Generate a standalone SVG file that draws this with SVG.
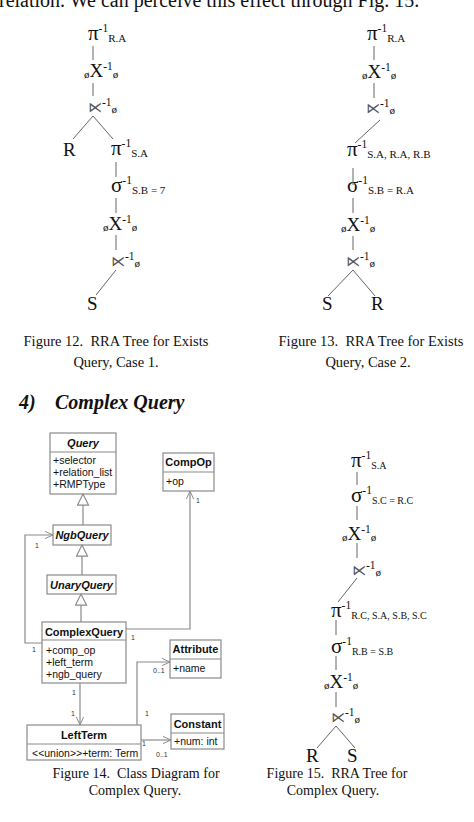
<svg xmlns="http://www.w3.org/2000/svg" width="474" height="822" viewBox="0 0 474 822">
<style>
.bg{fill:#fff}
.tr{font-family:"Liberation Serif","Times New Roman",serif;font-size:19px;fill:#111}
.g{font-size:21px}
.sp{font-size:11.5px}
.sb{font-size:11px}
.o{font-size:11px}
.sb2{font-size:10px}
.jn{font-family:"DejaVu Sans",sans-serif;font-size:14px;fill:#555}
.ln{stroke:#666;stroke-width:1;fill:none}
.box{fill:#fff;stroke:#8a8a8a;stroke-width:1.2}
.sep{stroke:#8a8a8a;stroke-width:1.2}
.cn{font-family:"Liberation Sans",Arial,sans-serif;font-size:10.5px;fill:#111}
.ct{font-family:"Liberation Sans",Arial,sans-serif;font-weight:bold;font-size:11px;text-anchor:middle;fill:#111}
.it{font-style:italic}
.ml{font-family:"Liberation Sans",Arial,sans-serif;font-size:7px;fill:#333}
.as{stroke:#8a8a8a;stroke-width:1.2;fill:none}
.cap{font-family:"Liberation Serif","Times New Roman",serif;font-size:14.5px;fill:#111;text-anchor:middle}
.cap2{font-family:"Liberation Serif","Times New Roman",serif;font-size:14px;fill:#111;text-anchor:middle}
.hd{font-family:"Liberation Serif","Times New Roman",serif;font-size:20px;font-weight:bold;font-style:italic;fill:#111}
.body{font-family:"Liberation Serif","Times New Roman",serif;font-size:20px;fill:#111}
</style>
<defs>
<marker id="oa" viewBox="0 0 10 10" refX="10" refY="5" markerWidth="8" markerHeight="8" orient="auto" markerUnits="userSpaceOnUse">
<path d="M0,0.5 L10,5 L0,9.5" fill="none" stroke="#8a8a8a" stroke-width="1.2"/>
</marker>
<marker id="tri" viewBox="0 0 14 14" refX="13" refY="7" markerWidth="13" markerHeight="13" orient="auto" markerUnits="userSpaceOnUse">
<path d="M1,1 L13,7 L1,13 Z" fill="#fff" stroke="#8a8a8a" stroke-width="1.2"/>
</marker>
</defs>
<rect class="bg" x="0" y="0" width="474" height="822"/>

<text class="body" x="-1" y="7">relation. We can perceive this effect through Fig. 15.</text>

<!-- Figure 12 tree -->
<g id="fig12">
<g id="f12-pi1"><text class="tr" x="88" y="40"><tspan class="g">π</tspan><tspan class="sp" dy="-8">-1</tspan><tspan class="sb" dy="10">R.A</tspan></text></g>
<g id="f12-x"><text class="tr" x="84" y="77"><tspan class="o" dy="1">ø</tspan><tspan dy="-1">X</tspan><tspan class="sp" dy="-7">-1</tspan><tspan class="o" dy="8">ø</tspan></text></g>
<g id="f12-join"><text class="tr" x="88" y="112"><tspan class="jn">⋉</tspan><tspan class="sp" dy="-6">-1</tspan><tspan class="o" dy="7">ø</tspan></text></g>
<g id="f12-R"><text class="tr" x="63" y="156">R</text></g>
<g id="f12-pi2"><text class="tr" x="111" y="155"><tspan class="g">π</tspan><tspan class="sp" dy="-8">-1</tspan><tspan class="sb" dy="10">S.A</tspan></text></g>
<g id="f12-sigma"><text class="tr" x="111" y="192"><tspan class="g">σ</tspan><tspan class="sp" dy="-8">-1</tspan><tspan class="sb" dy="10">S.B = 7</tspan></text></g>
<g id="f12-x2"><text class="tr" x="103" y="230"><tspan class="o" dy="1">ø</tspan><tspan dy="-1">X</tspan><tspan class="sp" dy="-7">-1</tspan><tspan class="o" dy="8">ø</tspan></text></g>
<g id="f12-join2"><text class="tr" x="111" y="266"><tspan class="jn">⋉</tspan><tspan class="sp" dy="-6">-1</tspan><tspan class="o" dy="7">ø</tspan></text></g>
<g id="f12-S"><text class="tr" x="87" y="310">S</text></g>
</g>

<!-- Figure 13 tree -->
<g id="fig13">
<g id="f13-pi1"><text class="tr" x="367" y="40"><tspan class="g">π</tspan><tspan class="sp" dy="-8">-1</tspan><tspan class="sb" dy="10">R.A</tspan></text></g>
<g id="f13-x"><text class="tr" x="362" y="78"><tspan class="o" dy="1">ø</tspan><tspan dy="-1">X</tspan><tspan class="sp" dy="-7">-1</tspan><tspan class="o" dy="8">ø</tspan></text></g>
<g id="f13-join"><text class="tr" x="366" y="113"><tspan class="jn">⋉</tspan><tspan class="sp" dy="-6">-1</tspan><tspan class="o" dy="7">ø</tspan></text></g>
<g id="f13-pi2"><text class="tr" x="347" y="156"><tspan class="g">π</tspan><tspan class="sp" dy="-8">-1</tspan><tspan class="sb" dy="10">S.A, R.A, R.B</tspan></text></g>
<g id="f13-sigma"><text class="tr" x="347" y="192"><tspan class="g">σ</tspan><tspan class="sp" dy="-8">-1</tspan><tspan class="sb" dy="10">S.B = R.A</tspan></text></g>
<g id="f13-x2"><text class="tr" x="341" y="231"><tspan class="o" dy="1">ø</tspan><tspan dy="-1">X</tspan><tspan class="sp" dy="-7">-1</tspan><tspan class="o" dy="8">ø</tspan></text></g>
<g id="f13-join2"><text class="tr" x="346" y="266"><tspan class="jn">⋉</tspan><tspan class="sp" dy="-6">-1</tspan><tspan class="o" dy="7">ø</tspan></text></g>
<g id="f13-S"><text class="tr" x="322" y="310">S</text></g>
<g id="f13-R"><text class="tr" x="371" y="310">R</text></g>
</g>

<!-- Figure 15 tree -->
<g id="fig15">
<g id="f15-pi1"><text class="tr" x="351" y="467"><tspan class="g">π</tspan><tspan class="sp" dy="-8">-1</tspan><tspan class="sb2" dy="10">S.A</tspan></text></g>
<g id="f15-sigma1"><text class="tr" x="351" y="502"><tspan class="g">σ</tspan><tspan class="sp" dy="-8">-1</tspan><tspan class="sb2" dy="10">S.C = R.C</tspan></text></g>
<g id="f15-x1"><text class="tr" x="342" y="540"><tspan class="o" dy="1">ø</tspan><tspan dy="-1">X</tspan><tspan class="sp" dy="-7">-1</tspan><tspan class="o" dy="8">ø</tspan></text></g>
<g id="f15-join1"><text class="tr" x="352" y="575"><tspan class="jn">⋉</tspan><tspan class="sp" dy="-6">-1</tspan><tspan class="o" dy="7">ø</tspan></text></g>
<g id="f15-pi2"><text class="tr" x="331" y="617"><tspan class="g">π</tspan><tspan class="sp" dy="-8">-1</tspan><tspan class="sb2" dy="10">R.C, S.A, S.B, S.C</tspan></text></g>
<g id="f15-sigma2"><text class="tr" x="331" y="653"><tspan class="g">σ</tspan><tspan class="sp" dy="-8">-1</tspan><tspan class="sb2" dy="10">R.B = S.B</tspan></text></g>
<g id="f15-x2"><text class="tr" x="324" y="688"><tspan class="o" dy="1">ø</tspan><tspan dy="-1">X</tspan><tspan class="sp" dy="-7">-1</tspan><tspan class="o" dy="8">ø</tspan></text></g>
<g id="f15-join2"><text class="tr" x="331" y="722"><tspan class="jn">⋉</tspan><tspan class="sp" dy="-6">-1</tspan><tspan class="o" dy="7">ø</tspan></text></g>
<g id="f15-R"><text class="tr" x="306" y="762">R</text></g>
<g id="f15-S"><text class="tr" x="347" y="762">S</text></g>
</g>

<!-- tree connectors -->
<g id="tree-edges" class="ln">
<line x1="93" y1="46" x2="93" y2="60"/>
<line x1="93" y1="83" x2="93" y2="96"/>
<line x1="93" y1="116" x2="73" y2="139"/>
<line x1="93" y1="116" x2="113" y2="139"/>
<line x1="116" y1="162" x2="116" y2="177"/>
<line x1="116" y1="198" x2="116" y2="213"/>
<line x1="116" y1="235" x2="116" y2="250"/>
<line x1="116" y1="270" x2="96" y2="295"/>

<line x1="374" y1="46" x2="374" y2="60"/>
<line x1="374" y1="83" x2="374" y2="98"/>
<line x1="380" y1="120" x2="355" y2="143"/>
<line x1="353" y1="168" x2="353" y2="185"/>
<line x1="353" y1="198" x2="353" y2="213"/>
<line x1="353" y1="236" x2="353" y2="250"/>
<line x1="353" y1="270" x2="328" y2="296"/>
<line x1="353" y1="270" x2="375" y2="296"/>

<line x1="357" y1="472" x2="357" y2="485"/>
<line x1="357" y1="506" x2="357" y2="520"/>
<line x1="357" y1="543" x2="357" y2="558"/>
<line x1="357" y1="578" x2="338" y2="602"/>
<line x1="336" y1="620" x2="336" y2="635"/>
<line x1="336" y1="656" x2="336" y2="670"/>
<line x1="336" y1="692" x2="336" y2="707"/>
<line x1="336" y1="726" x2="317" y2="748"/>
<line x1="336" y1="726" x2="355" y2="748"/>
</g>

<!-- captions -->
<text class="cap" x="116" y="346" xml:space="preserve">Figure 12.  RRA Tree for Exists</text>
<text class="cap" x="116" y="367">Query, Case 1.</text>
<text class="cap" x="371" y="346" xml:space="preserve">Figure 13.  RRA Tree for Exists</text>
<text class="cap" x="368" y="367">Query, Case 2.</text>

<text class="hd" x="19" y="409">4)</text>
<text class="hd" x="55" y="409">Complex Query</text>

<!-- class diagram nodes -->
<g id="Query">
<rect class="box" x="50" y="433" width="66" height="61"/>
<line class="sep" x1="50" y1="452" x2="116" y2="452"/>
<text class="ct it" x="83" y="447">Query</text>
<text class="cn" x="53" y="464">+selector</text>
<text class="cn" x="53" y="476">+relation_list</text>
<text class="cn" x="53" y="488">+RMPType</text>
</g>
<g id="CompOp">
<rect class="box" x="163" y="453" width="51" height="38"/>
<line class="sep" x1="163" y1="472" x2="214" y2="472"/>
<text class="ct" x="188.5" y="466">CompOp</text>
<text class="cn" x="166" y="485">+op</text>
</g>
<g id="NgbQuery">
<rect class="box" x="53" y="525" width="58" height="20"/>
<text class="ct it" x="82" y="539">NgbQuery</text>
</g>
<g id="UnaryQuery">
<rect class="box" x="47" y="575" width="69" height="19"/>
<text class="ct it" x="81.5" y="589">UnaryQuery</text>
</g>
<g id="ComplexQuery">
<rect class="box" x="42" y="622" width="84" height="61"/>
<line class="sep" x1="42" y1="640" x2="126" y2="640"/>
<text class="ct" x="84" y="636">ComplexQuery</text>
<text class="cn" x="46" y="654">+comp_op</text>
<text class="cn" x="46" y="666">+left_term</text>
<text class="cn" x="46" y="678">+ngb_query</text>
</g>
<g id="Attribute">
<rect class="box" x="170" y="640" width="51" height="38"/>
<line class="sep" x1="170" y1="659" x2="221" y2="659"/>
<text class="ct" x="195.5" y="653">Attribute</text>
<text class="cn" x="173" y="672">+name</text>
</g>
<g id="LeftTerm">
<rect class="box" x="27" y="725" width="114" height="35"/>
<line class="sep" x1="27" y1="744" x2="141" y2="744"/>
<text class="ct" x="84" y="739">LeftTerm</text>
<text class="cn" x="32" y="757">&lt;&lt;union&gt;&gt;+term: Term</text>
</g>
<g id="Constant">
<rect class="box" x="171" y="714" width="53" height="35"/>
<line class="sep" x1="171" y1="733" x2="224" y2="733"/>
<text class="ct" x="197.5" y="728">Constant</text>
<text class="cn" x="174" y="745">+num: int</text>
</g>

<!-- class diagram connectors -->
<g id="class-edges">
<line class="as" x1="83" y1="525" x2="83" y2="494" marker-end="url(#tri)"/>
<line class="as" x1="82" y1="575" x2="82" y2="545" marker-end="url(#tri)"/>
<line class="as" x1="81" y1="622" x2="81" y2="594" marker-end="url(#tri)"/>
<polyline class="as" points="42,643 25,643 25,535 53,535" marker-end="url(#oa)"/>
<polyline class="as" points="126,629 190,629 190,491" marker-end="url(#oa)"/>
<line class="as" x1="80" y1="683" x2="80" y2="725" marker-end="url(#oa)"/>
<polyline class="as" points="137,725 137,662 170,662" marker-end="url(#oa)"/>
<line class="as" x1="141" y1="740" x2="171" y2="740" marker-end="url(#oa)"/>
<text class="ml" x="35" y="548">1</text>
<text class="ml" x="32" y="652">1</text>
<text class="ml" x="196" y="503">1</text>
<text class="ml" x="131" y="640">1</text>
<text class="ml" x="72" y="695">1</text>
<text class="ml" x="71" y="716">1</text>
<text class="ml" x="153" y="673">0..1</text>
<text class="ml" x="145" y="716">1</text>
<text class="ml" x="142" y="746">1</text>
<text class="ml" x="156" y="757">0..1</text>
</g>

<text class="cap2" x="136" y="778" xml:space="preserve">Figure 14.  Class Diagram for</text>
<text class="cap2" x="135" y="795">Complex Query.</text>
<text class="cap2" x="337" y="778" xml:space="preserve">Figure 15.  RRA Tree for</text>
<text class="cap2" x="333" y="795">Complex Query.</text>
</svg>
